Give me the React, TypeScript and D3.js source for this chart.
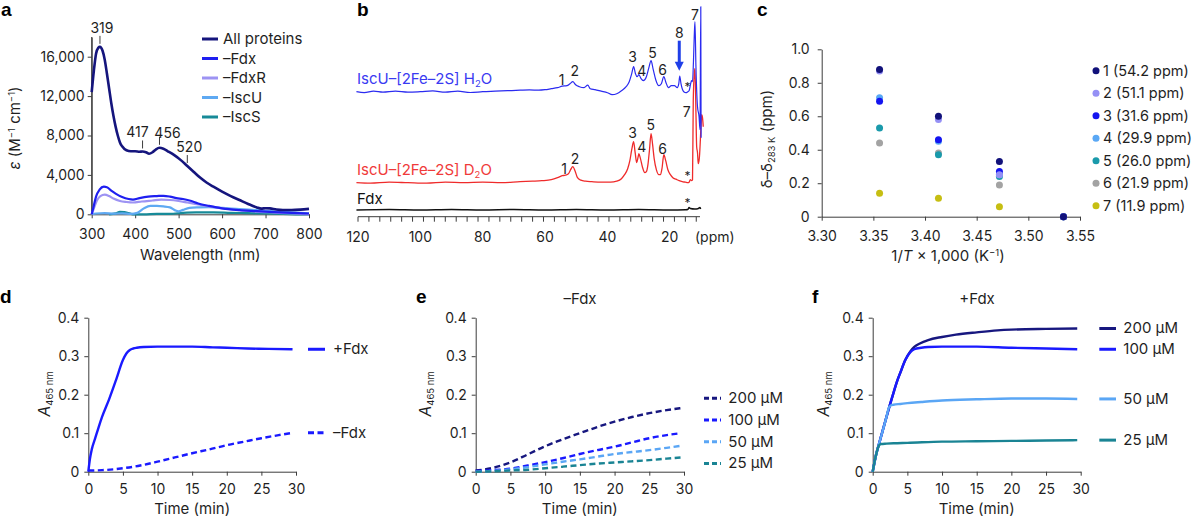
import { useEffect, useRef } from 'react';
import * as d3 from 'd3';

type Pt = [number, number];

const FONT = "Inter, 'Noto Sans', sans-serif";
const AXIS_COLOR = '#3c3c3c';
const TEXT_COLOR = '#1f1f1f';
const TICK_SIZE = 14;
const LABEL_SIZE = 15;

// ---------- a: UV-vis spectra ----------
const spectrumNames = ['All proteins', '–Fdx', '–FdxR', '–IscU', '–IscS'];
const spectrumColors = ['#15157d', '#1f1ff0', '#9d93f3', '#5ea9f2', '#178a98'];
const allProteins: Pt[] = [
  [300, 12400], [305, 14600], [310, 16300], [315, 16900], [319, 17000], [325, 16600],
  [330, 15700], [335, 14300], [340, 12800], [345, 11300], [350, 10000], [355, 8900],
  [360, 8000], [365, 7300], [370, 6900], [380, 6500], [390, 6400], [400, 6400],
  [410, 6350], [417, 6380], [425, 6300], [432, 6150], [440, 6300], [448, 6600],
  [456, 6750], [465, 6650], [475, 6400], [490, 6000], [505, 5500], [520, 4900],
  [535, 4300], [550, 3700], [565, 3200], [580, 2800], [600, 2300], [620, 1850],
  [640, 1450], [660, 1050], [680, 700], [690, 580], [700, 620], [710, 600],
  [725, 480], [740, 430], [760, 430], [780, 470], [800, 550],
];
const minusFdxSpec: Pt[] = [
  [300, 0], [305, 900], [310, 1800], [318, 2500], [328, 2800], [335, 2750], [345, 2400],
  [355, 2100], [370, 1750], [385, 1550], [395, 1500], [410, 1650], [430, 1800],
  [450, 1850], [465, 1880], [480, 1800], [495, 1650], [510, 1550], [525, 1400],
  [545, 1100], [570, 850], [600, 600], [640, 420], [680, 320], [720, 220], [760, 140],
  [800, 80],
];
const minusFdxRSpec: Pt[] = [
  [300, 0], [305, 600], [312, 1400], [320, 1850], [330, 2000], [340, 1850], [350, 1600],
  [365, 1350], [380, 1250], [395, 1200], [415, 1300], [440, 1400], [460, 1480],
  [480, 1450], [500, 1350], [520, 1200], [545, 1000], [570, 800], [600, 600],
  [640, 420], [680, 280], [720, 180], [760, 80], [800, 0],
];
const minusIscUSpec: Pt[] = [
  [300, 0], [310, 80], [330, 120], [350, 60], [370, 100], [390, 50], [405, 150],
  [420, 600], [435, 850], [450, 850], [465, 800], [480, 700], [492, 400], [500, 300],
  [510, 450], [525, 650], [545, 700], [570, 720], [600, 650], [640, 520], [680, 420],
  [720, 300], [760, 200], [800, 100],
];
const minusIscSSpec: Pt[] = [
  [340, 0], [355, 100], [365, 250], [375, 230], [385, 120], [395, 0], [420, 0],
  [450, 50], [480, 50], [510, 150], [540, 200], [580, 200], [620, 150], [660, 120],
  [700, 80], [740, 50], [780, 0], [800, 0],
];
const spectra = [allProteins, minusFdxSpec, minusFdxRSpec, minusIscUSpec, minusIscSSpec];
const wavelengthTicks = [300, 400, 500, 600, 700, 800];
const epsilonTicks = [0, 4000, 8000, 12000, 16000];
const bandMarks = [319, 417, 456, 520];

// ---------- b: paramagnetic NMR ----------
const ppmTickLabels = [120, 100, 80, 60, 40, 20];
const h2oSpectrum: Pt[] = [
  [120.5, 0], [118, -1], [115, 0.5], [112, -0.5], [108, 0.5], [104, -0.5], [100, 0],
  [96, 0.8], [92, -0.5], [88, 0.5], [84, -0.8], [80, 0], [76, 0.5], [72, 1], [68, 1.5],
  [65, 1.8], [62, 1.5], [60, 2], [58, 3], [56, 4], [54.5, 5.5], [53, 6], [52, 8],
  [51.1, 10], [50.2, 7], [49, 5], [47.5, 4], [46.3, 6.5], [45.5, 3], [44, 2], [42, 0.5],
  [40, -1], [38.5, -3], [37, -2], [35.5, 1], [34, 5], [33, 10], [32.2, 18], [31.6, 25],
  [31, 18], [30.5, 15], [29.9, 17], [29.2, 13], [28.5, 11], [27.5, 15], [26.7, 24],
  [26, 31], [25.3, 22], [24.5, 12], [23.5, 6], [22.7, 8], [21.9, 15], [21.2, 9],
  [20.4, 4], [19.5, 6], [18.5, 6], [17.6, 4], [17.1, 8], [16.8, 15.7], [16.4, 8],
  [16, 3], [15.5, 0], [14.8, -1], [14.2, 0], [13.8, 1], [13.3, 8], [13, 11], [12.7, 10],
  [12.4, 30], [12.15, 55], [11.92, 70], [11.6, 25], [11.1, -15], [10.6, -25],
  [10.3, -38], [10.05, 85], [9.95, -46],
];
const d2oSpectrum: Pt[] = [
  [120.5, 0], [116, -0.5], [110, 0.5], [104, 0], [98, -0.5], [92, 0.5], [86, 0],
  [80, 0.5], [74, 0], [68, 1], [64, 1.5], [61, 2], [58, 3], [56, 5], [54.5, 7],
  [53.5, 7.5], [52.5, 9], [51.8, 13], [51.1, 16], [50.4, 12], [49.6, 5], [48.5, 2.5],
  [47, 1.5], [45, 1], [42, 0.5], [39, 0.5], [37, 1.5], [35.5, 4], [34.5, 8], [33.5, 14],
  [32.8, 22], [32.2, 33], [31.6, 41], [31.1, 30], [30.6, 20], [30.2, 25], [29.9, 29],
  [29.4, 24], [28.7, 15], [28, 10], [27.5, 11], [27, 18], [26.5, 33], [26, 49],
  [25.5, 38], [25, 24], [24.3, 13], [23.5, 8], [23, 8], [22.5, 14], [21.9, 28],
  [21.3, 22], [20.6, 13], [19.8, 8], [19, 5], [18, 3.5], [17, 2], [16, 1], [15, 0.5],
  [14.2, 0], [13.8, 0.5], [13.4, 3], [13, 2], [12.7, 3], [12.46, 82], [12.14, 109],
  [11.92, 114], [11.6, 70], [11.37, 36], [11.1, 30], [10.86, 19], [10.5, 25],
  [10.0, 55], [9.77, 68], [9.5, 65], [9.26, 56],
];
const fdxSpectrum: Pt[] = [
  [120.5, 0], [110, 0.5], [100, 0], [90, 0.5], [80, 0], [70, 0.5], [60, 0], [50, 0.5],
  [40, 0], [30, 0.5], [20, 0], [15, 0.3], [14.2, 0.5], [13.8, 2.5], [13.4, 1.5],
  [12, 1], [11, 1.2], [10.3, 2.5], [10.1, 1],
];
// [label, ppm, height above trace baseline]
const h2oPeakLabels: [string, number, number][] = [
  ['1', 54.7, 6.7], ['2', 50.5, 16], ['3', 31.9, 30], ['4', 29.0, 16], ['5', 25.5, 33.4],
  ['6', 22.3, 16.7], ['8', 16.95, 54], ['7', 11.9, 71.7],
];
const d2oPeakLabels: [string, number, number][] = [
  ['1', 53.9, 8.4], ['2', 50.4, 18.4], ['3', 31.9, 45], ['4', 29.0, 31], ['5', 26.1, 52.7],
  ['6', 22.3, 28.7], ['7', 14.6, 66],
];
const asteriskPpm = 14.3;

// ---------- c: temperature dependence ----------
const inverseTemp = [3.356, 3.413, 3.472, 3.534];
const shiftNames = ['1 (54.2 ppm)', '2 (51.1 ppm)', '3 (31.6 ppm)', '4 (29.9 ppm)', '5 (26.0 ppm)', '6 (21.9 ppm)', '7 (11.9 ppm)'];
const shiftColors = ['#11117a', '#9590f5', '#1414f0', '#5aa8f5', '#1a9aab', '#a3a3a3', '#c6be12'];
const shiftPeak1 = [0.88, 0.60, 0.33, 0];
const shiftPeak2 = [0.87, 0.58, 0.25, 0];
const shiftPeak3 = [0.69, 0.46, 0.27, 0];
const shiftPeak4 = [0.71, 0.45, 0.25, 0];
const shiftPeak5 = [0.53, 0.37, 0.24, 0];
const shiftPeak6 = [0.44, 0.38, 0.19, 0];
const shiftPeak7 = [0.14, 0.11, 0.06, 0];
const shifts = [shiftPeak1, shiftPeak2, shiftPeak3, shiftPeak4, shiftPeak5, shiftPeak6, shiftPeak7];
const invTTicks = [3.3, 3.35, 3.4, 3.45, 3.5, 3.55];
const shiftTicks = [0, 0.2, 0.4, 0.6, 0.8, 1.0];

// ---------- d–f: kinetics ----------
const timeTicks = [0, 5, 10, 15, 20, 25, 30];
const absTicks = [0, 0.1, 0.2, 0.3, 0.4];
const plusFdx: Pt[] = [
  [0, 0], [0.25, 0.035], [0.5, 0.058], [1, 0.087], [1.5, 0.116], [2, 0.143], [3, 0.188],
  [4, 0.238], [5, 0.29], [5.5, 0.307], [6, 0.316], [6.5, 0.32], [7, 0.322], [8, 0.324],
  [10, 0.325], [12, 0.325], [15, 0.325], [18, 0.323], [20, 0.322], [23, 0.32],
  [26, 0.319], [29.5, 0.318],
];
const minusFdx: Pt[] = [
  [0, 0.003], [2, 0.004], [5, 0.009], [7.5, 0.016], [10, 0.026], [12.5, 0.037],
  [15, 0.048], [17.5, 0.058], [20, 0.069], [22.5, 0.078], [25, 0.087], [27.5, 0.095],
  [29.5, 0.101],
];
const concNames = ['200 µM', '100 µM', '50 µM', '25 µM'];
const concColors = ['#17177f', '#1a1aff', '#5aa6f5', '#1a8494'];
const noFdx200: Pt[] = [[0, 0.003], [2.5, 0.01], [5, 0.024], [7.5, 0.045], [10, 0.066], [12.5, 0.084], [15, 0.1], [17.5, 0.116], [20, 0.13], [22.5, 0.142], [25, 0.152], [27.5, 0.16], [29.5, 0.165]];
const noFdx100: Pt[] = [[0, 0.002], [2.5, 0.004], [5, 0.008], [7.5, 0.016], [10, 0.025], [12.5, 0.035], [15, 0.046], [17.5, 0.056], [20, 0.065], [22.5, 0.076], [25, 0.087], [27.5, 0.095], [29.5, 0.1]];
const noFdx50: Pt[] = [[0, 0], [2.5, 0.002], [5, 0.006], [7.5, 0.012], [10, 0.019], [12.5, 0.026], [15, 0.032], [17.5, 0.039], [20, 0.046], [22.5, 0.051], [25, 0.056], [27.5, 0.062], [29.5, 0.067]];
const noFdx25: Pt[] = [[0, 0], [2.5, 0.001], [5, 0.003], [7.5, 0.005], [10, 0.009], [12.5, 0.013], [15, 0.017], [17.5, 0.021], [20, 0.024], [22.5, 0.027], [25, 0.03], [27.5, 0.034], [29.5, 0.037]];
const withFdx200: Pt[] = [[0, 0], [0.5, 0.045], [1, 0.078], [2, 0.143], [2.5, 0.175], [3, 0.205], [3.5, 0.234], [4, 0.258], [4.7, 0.29], [5.4, 0.312], [6, 0.324], [6.8, 0.333], [8, 0.342], [10, 0.35], [12, 0.356], [15, 0.362], [18, 0.367], [20, 0.369], [25, 0.371], [29.5, 0.372]];
const withFdx100: Pt[] = [[0, 0], [0.5, 0.045], [1, 0.078], [2, 0.143], [2.5, 0.175], [3, 0.205], [3.5, 0.234], [4, 0.258], [4.7, 0.29], [5.4, 0.31], [6, 0.318], [7, 0.322], [8, 0.324], [10, 0.325], [15, 0.325], [20, 0.322], [25, 0.32], [29.5, 0.318]];
const withFdx50: Pt[] = [[0, 0], [0.5, 0.045], [1, 0.078], [1.5, 0.11], [2, 0.143], [2.3, 0.165], [2.6, 0.172], [3, 0.174], [4, 0.176], [5, 0.178], [7, 0.181], [10, 0.185], [15, 0.188], [20, 0.19], [25, 0.19], [29.5, 0.189]];
const withFdx25: Pt[] = [[0, 0], [0.5, 0.045], [0.9, 0.068], [1.2, 0.072], [2, 0.073], [3, 0.074], [5, 0.075], [10, 0.078], [15, 0.079], [20, 0.08], [25, 0.081], [29.5, 0.082]];

type G = d3.Selection<SVGGElement, unknown, null, undefined>;
type Lin = d3.ScaleLinear<number, number>;

function styleAxis(ax: G) {
  ax.attr('font-family', FONT).attr('font-size', TICK_SIZE);
  ax.select('.domain').attr('stroke', AXIS_COLOR);
  ax.selectAll('.tick line').attr('stroke', AXIS_COLOR);
  ax.selectAll('.tick text').attr('fill', TEXT_COLOR);
}

function bottomAxis(g: G, x: Lin, y: number, ticks: number[], fmt: (d: number) => string, pad: number) {
  const ax = g.append('g').attr('transform', `translate(0,${y})`);
  ax.call(d3.axisBottom(x).tickValues(ticks).tickFormat((d) => fmt(+d)).tickSize(4).tickSizeOuter(0).tickPadding(pad));
  styleAxis(ax);
}

function leftAxis(g: G, yS: Lin, x: number, ticks: number[], fmt: (d: number) => string, pad: number) {
  const ax = g.append('g').attr('transform', `translate(${x},0)`);
  ax.call(d3.axisLeft(yS).tickValues(ticks).tickFormat((d) => fmt(+d)).tickSize(4).tickSizeOuter(0).tickPadding(pad));
  styleAxis(ax);
}

function label(g: G, x: number, y: number, s: string, size = LABEL_SIZE, anchor = 'middle', color = TEXT_COLOR) {
  return g.append('text').attr('x', x).attr('y', y).attr('text-anchor', anchor)
    .attr('font-size', size).attr('fill', color).text(s);
}

function panelLetter(g: G, x: number, y: number, s: string) {
  g.append('text').attr('x', x).attr('y', y).attr('font-family', "'Liberation Sans', Arial, sans-serif")
    .attr('font-weight', 700).attr('font-size', 19).attr('fill', '#000').text(s);
}

function absorbanceLabel(g: G, x: number, y: number) {
  const t = g.append('text').attr('transform', `translate(${x},${y}) rotate(-90)`)
    .attr('text-anchor', 'middle').attr('fill', TEXT_COLOR).attr('font-size', 16);
  t.append('tspan').attr('font-style', 'italic').text('A');
  t.append('tspan').attr('font-size', 9.5).attr('dy', 3).text('465 nm');
}

const fmt0 = (d: number) => (d === 0 ? '0' : d.toFixed(1));

function drawPanelA(svg: G) {
  const g = svg.append('g');
  const x = d3.scaleLinear().domain([300, 800]).range([91.7, 309]);
  const y = d3.scaleLinear().domain([0, 18000]).range([214.3, 37]);
  g.append('line').attr('x1', x(300)).attr('x2', x(300)).attr('y1', y(18000)).attr('y2', y(0)).attr('stroke', AXIS_COLOR);
  bottomAxis(g, x, y(0), wavelengthTicks, (d) => String(d), 11);
  leftAxis(g, y, x(300), epsilonTicks, (d) => d3.format(',')(d), 3);

  const line = d3.line<Pt>().x((d) => x(d[0])).y((d) => y(d[1])).curve(d3.curveMonotoneX);
  for (let i = spectra.length - 1; i >= 0; i--) {
    g.append('path').attr('d', line(spectra[i])).attr('fill', 'none')
      .attr('stroke', spectrumColors[i]).attr('stroke-width', i === 0 ? 2.6 : 2.2);
  }

  bandMarks.forEach((w) => {
    const pt = allProteins.find((d) => d[0] === w)!;
    const bottom = y(pt[1]) - 3;
    g.append('line').attr('x1', x(w)).attr('x2', x(w)).attr('y1', bottom - 8).attr('y2', bottom)
      .attr('stroke', AXIS_COLOR).attr('stroke-width', 1);
    const dx = w === 417 ? -5 : w === 456 ? 8 : 2;
    label(g, x(w) + dx, w === 456 ? bottom - 7 : bottom - 11, String(w), 14);
  });

  spectrumNames.forEach((name, i) => {
    const ly = 39 + i * 19.5;
    g.append('line').attr('x1', 202).attr('x2', 218).attr('y1', ly).attr('y2', ly)
      .attr('stroke', spectrumColors[i]).attr('stroke-width', 3);
    label(g, 223, ly + 5, name, LABEL_SIZE, 'start');
  });

  label(g, x(550), 260, 'Wavelength (nm)');
  const yl = g.append('text').attr('transform', 'translate(20,128) rotate(-90)')
    .attr('text-anchor', 'middle').attr('font-size', LABEL_SIZE).attr('fill', TEXT_COLOR);
  yl.append('tspan').attr('font-style', 'italic').text('ε');
  yl.append('tspan').text(' (M');
  yl.append('tspan').attr('font-size', 9.5).attr('dy', -5).text('−1');
  yl.append('tspan').attr('dy', 5).text(' cm');
  yl.append('tspan').attr('font-size', 9.5).attr('dy', -5).text('−1');
  yl.append('tspan').attr('dy', 5).text(')');
  panelLetter(g, 1, 16, 'a');
}

function drawPanelB(svg: G) {
  const g = svg.append('g');
  const x = d3.scaleLinear().domain([120, 10.3]).range([358, 700]);
  const y = d3.scaleLinear().domain([0, 210]).range([216.7, 6.7]);
  const axisY = 216.7;
  g.append('line').attr('x1', x(120)).attr('x2', x(10.3)).attr('y1', axisY).attr('y2', axisY).attr('stroke', AXIS_COLOR);
  d3.range(120, 10.3, -3.5).forEach((p) => {
    g.append('line').attr('x1', x(p)).attr('x2', x(p)).attr('y1', axisY).attr('y2', axisY + 5).attr('stroke', AXIS_COLOR);
  });
  ppmTickLabels.forEach((p) => label(g, x(p), 242, String(p), TICK_SIZE));
  label(g, 695, 242, '(ppm)', TICK_SIZE, 'start');

  const traces: { data: Pt[]; offset: number; color: string; width: number }[] = [
    { data: fdxSpectrum, offset: 6.7, color: '#111', width: 1.5 },
    { data: d2oSpectrum, offset: 34, color: '#ef2b2b', width: 1.3 },
    { data: h2oSpectrum, offset: 125, color: '#2b2bf0', width: 1.2 },
  ];
  traces.forEach((t) => {
    const line = d3.line<Pt>().x((d) => x(d[0])).y((d) => y(t.offset + d[1])).curve(d3.curveMonotoneX);
    g.append('path').attr('d', line(t.data)).attr('fill', 'none').attr('stroke', t.color)
      .attr('stroke-width', t.width).attr('stroke-linejoin', 'round');
  });

  h2oPeakLabels.forEach(([s, p, h]) => label(g, x(p), y(125 + h), s, 14));
  d2oPeakLabels.forEach(([s, p, h]) => label(g, x(p), y(34 + h), s, 14));
  label(g, x(asteriskPpm), y(125 + 1), '*', 12);
  label(g, x(asteriskPpm), y(34 + 3), '*', 12);
  label(g, x(asteriskPpm), y(6.7 + 3), '*', 12);

  // arrow at peak 8
  const ax = x(16.95);
  g.append('line').attr('x1', ax).attr('x2', ax).attr('y1', y(125 + 51)).attr('y2', y(125 + 28))
    .attr('stroke', '#1f3fe8').attr('stroke-width', 3);
  g.append('path').attr('d', `M${ax - 4.5},${y(125 + 30)} L${ax + 4.5},${y(125 + 30)} L${ax},${y(125 + 21)} Z`)
    .attr('fill', '#1f3fe8');

  const t1 = g.append('text').attr('x', 357).attr('y', 84).attr('font-size', LABEL_SIZE).attr('fill', '#3a3af2');
  t1.append('tspan').text('IscU–[2Fe–2S] H');
  t1.append('tspan').attr('font-size', 9.5).attr('dy', 3).text('2');
  t1.append('tspan').attr('dy', -3).text('O');
  const t2 = g.append('text').attr('x', 357).attr('y', 175).attr('font-size', LABEL_SIZE).attr('fill', '#f03a3a');
  t2.append('tspan').text('IscU–[2Fe–2S] D');
  t2.append('tspan').attr('font-size', 9.5).attr('dy', 3).text('2');
  t2.append('tspan').attr('dy', -3).text('O');
  label(g, 357, 204, 'Fdx', LABEL_SIZE, 'start', '#111');
  panelLetter(g, 357, 16, 'b');
}

function drawPanelC(svg: G) {
  const g = svg.append('g');
  const x = d3.scaleLinear().domain([3.3, 3.55]).range([821.7, 1080]);
  const y = d3.scaleLinear().domain([0, 1]).range([216.7, 49.3]);
  bottomAxis(g, x, y(0), invTTicks, (d) => d.toFixed(2), 10);
  leftAxis(g, y, x(3.3), shiftTicks, fmt0, 8);

  for (let i = shifts.length - 1; i >= 0; i--) {
    shifts[i].forEach((v, j) => {
      g.append('circle').attr('cx', x(inverseTemp[j])).attr('cy', y(v)).attr('r', 3.5).attr('fill', shiftColors[i]);
    });
  }

  shiftNames.forEach((name, i) => {
    const ly = 70.7 + i * 22.5;
    g.append('circle').attr('cx', 1096).attr('cy', ly).attr('r', 3.5).attr('fill', shiftColors[i]);
    label(g, 1103, ly + 5, name, 14.5, 'start');
  });

  const xl = g.append('text').attr('x', 948).attr('y', 261).attr('text-anchor', 'middle')
    .attr('font-size', LABEL_SIZE).attr('fill', TEXT_COLOR);
  xl.append('tspan').text('1/');
  xl.append('tspan').attr('font-style', 'italic').text('T');
  xl.append('tspan').text(' × 1,000 (K');
  xl.append('tspan').attr('font-size', 9.5).attr('dy', -5).text('−1');
  xl.append('tspan').attr('dy', 5).text(')');

  const yl = g.append('text').attr('transform', 'translate(772,139) rotate(-90)')
    .attr('text-anchor', 'middle').attr('font-size', LABEL_SIZE).attr('fill', TEXT_COLOR);
  yl.append('tspan').text('δ–δ');
  yl.append('tspan').attr('font-size', 9.5).attr('dy', 3).text('283 K');
  yl.append('tspan').attr('dy', -3).text(' (ppm)');
  panelLetter(g, 757, 16, 'c');
}

function kineticsFrame(g: G, x0: number, x1: number) {
  const x = d3.scaleLinear().domain([0, 30]).range([x0, x1]);
  const y = d3.scaleLinear().domain([0, 0.4]).range([471.7, 317.7]);
  bottomAxis(g, x, y(0), timeTicks, (d) => String(d), 8);
  leftAxis(g, y, x0, absTicks, fmt0, 5);
  label(g, (x0 + x1) / 2, 514, 'Time (min)');
  return { x, y };
}

function drawPanelD(svg: G) {
  const g = svg.append('g');
  const { x, y } = kineticsFrame(g, 88.3, 296);
  const line = d3.line<Pt>().x((d) => x(d[0])).y((d) => y(d[1])).curve(d3.curveMonotoneX);
  g.append('path').attr('d', line(minusFdx)).attr('fill', 'none').attr('stroke', '#1a1aff')
    .attr('stroke-width', 2.4).attr('stroke-dasharray', '6,3.5');
  g.append('path').attr('d', line(plusFdx)).attr('fill', 'none').attr('stroke', '#1a1aff').attr('stroke-width', 2.4);

  const rows: [string, Pt[], string | null][] = [['+Fdx', plusFdx, null], ['–Fdx', minusFdx, '6,3.5']];
  rows.forEach(([name, data, dash]) => {
    const ly = y(data[data.length - 1][1]);
    g.append('line').attr('x1', 308).attr('x2', 325).attr('y1', ly).attr('y2', ly)
      .attr('stroke', '#1a1aff').attr('stroke-width', 3).attr('stroke-dasharray', dash);
    label(g, 333, ly + 5, name, LABEL_SIZE, 'start');
  });
  absorbanceLabel(g, 50, 394);
  panelLetter(g, 0, 303, 'd');
}

function drawPanelE(svg: G) {
  const g = svg.append('g');
  const { x, y } = kineticsFrame(g, 475.7, 684);
  const line = d3.line<Pt>().x((d) => x(d[0])).y((d) => y(d[1])).curve(d3.curveMonotoneX);
  const series = [noFdx200, noFdx100, noFdx50, noFdx25];
  series.forEach((s, i) => {
    g.append('path').attr('d', line(s)).attr('fill', 'none').attr('stroke', concColors[i])
      .attr('stroke-width', 2.4).attr('stroke-dasharray', '6,3.5');
  });
  concNames.forEach((name, i) => {
    const ly = 398.3 + i * 21.7;
    g.append('line').attr('x1', 704).attr('x2', 721).attr('y1', ly).attr('y2', ly)
      .attr('stroke', concColors[i]).attr('stroke-width', 3).attr('stroke-dasharray', '5,3');
    label(g, 728.3, ly + 5, name, LABEL_SIZE, 'start');
  });
  label(g, 580, 304, '–Fdx');
  absorbanceLabel(g, 431, 394);
  panelLetter(g, 416, 303, 'e');
}

function drawPanelF(svg: G) {
  const g = svg.append('g');
  const { x, y } = kineticsFrame(g, 872.7, 1080.7);
  const line = d3.line<Pt>().x((d) => x(d[0])).y((d) => y(d[1])).curve(d3.curveMonotoneX);
  const series = [withFdx200, withFdx100, withFdx50, withFdx25];
  series.forEach((s, i) => {
    g.append('path').attr('d', line(s)).attr('fill', 'none').attr('stroke', concColors[i]).attr('stroke-width', 2.4);
  });
  concNames.forEach((name, i) => {
    const s = series[i];
    const ly = y(s[s.length - 1][1]);
    g.append('line').attr('x1', 1099.3).attr('x2', 1116).attr('y1', ly).attr('y2', ly)
      .attr('stroke', concColors[i]).attr('stroke-width', 3);
    label(g, 1123.3, ly + 5, name, LABEL_SIZE, 'start');
  });
  label(g, 977, 304, '+Fdx');
  absorbanceLabel(g, 829, 394);
  panelLetter(g, 812, 303, 'f');
}

export default function App() {
  const ref = useRef<SVGSVGElement>(null);

  useEffect(() => {
    if (!ref.current) return;
    const root = d3.select(ref.current);
    root.selectAll('*').remove();
    root.append('rect').attr('width', 1200).attr('height', 519).attr('fill', '#fff');
    const svg = root.append('g').attr('font-family', FONT) as unknown as G;
    drawPanelA(svg);
    drawPanelB(svg);
    drawPanelC(svg);
    drawPanelD(svg);
    drawPanelE(svg);
    drawPanelF(svg);
  }, []);

  return (
    <svg
      ref={ref}
      width={1200}
      height={519}
      style={{ position: 'absolute', left: 0, top: 0, background: '#fff' }}
    />
  );
}
